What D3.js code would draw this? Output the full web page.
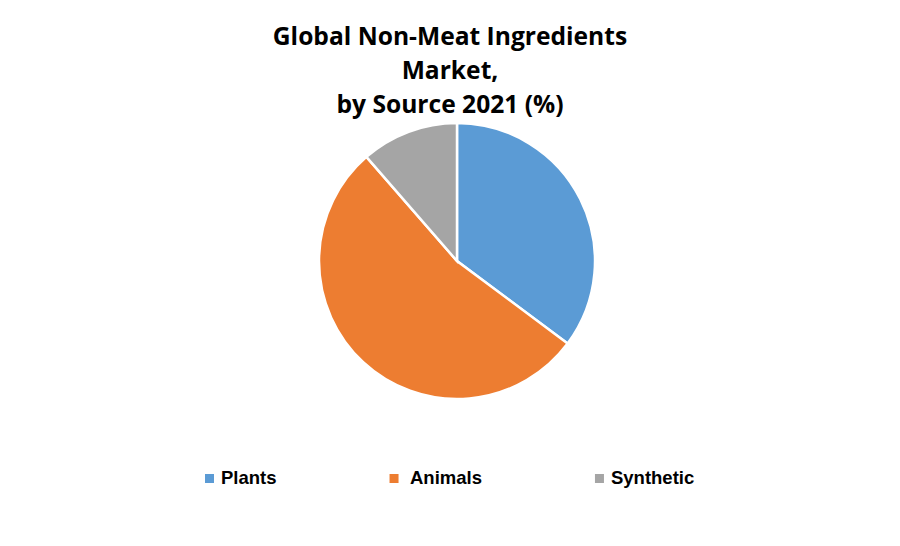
<!DOCTYPE html>
<html>
<head>
<meta charset="utf-8">
<script src="https://cdn.jsdelivr.net/npm/d3@7"></script>
<style>
  body { margin: 0; background: #fff; }
</style>
</head>
<body>
<svg id="chart"></svg>
<script>
const categories = ["Plants", " Animals", "Synthetic"];
const shares = [35.2, 53.4, 11.4];
const colors = ["#5B9BD5", "#ED7D31", "#A5A5A5"];
const titleLines = ["Global Non-Meat Ingredients", "Market,", "by Source 2021 (%)"];

const width = 900, height = 546;
const cx = 457, cy = 261, radius = 138;

const svg = d3.select("#chart").attr("width", width).attr("height", height);

// title
svg.append("g")
  .selectAll("text")
  .data(titleLines)
  .enter()
  .append("text")
  .attr("x", 450)
  .attr("y", (d, i) => 45 + i * 34)
  .attr("text-anchor", "middle")
  .attr("font-family", "'Open Sans', sans-serif")
  .attr("font-weight", "bold")
  .attr("font-size", "24.6px")
  .attr("fill", "#000")
  .text(d => d);

// pie
const pie = d3.pie().sort(null).value(d => d.value);
const arc = d3.arc().innerRadius(0).outerRadius(radius);
const data = categories.map((c, i) => ({ name: c, value: shares[i], color: colors[i] }));

svg.append("g")
  .attr("transform", "translate(" + cx + "," + cy + ")")
  .selectAll("path")
  .data(pie(data))
  .enter()
  .append("path")
  .attr("d", arc)
  .attr("fill", d => d.data.color)
  .attr("stroke", "#fff")
  .attr("stroke-width", 2.5);

// legend: entries laid out left to right, spaced by their text widths
const sq = 9, textGap = 7, itemGap = 113;
const legend = svg.append("g")
  .selectAll("g")
  .data(data)
  .enter()
  .append("g");

legend.append("rect")
  .attr("y", 474)
  .attr("width", sq)
  .attr("height", sq)
  .attr("fill", d => d.color);

legend.append("text")
  .attr("x", sq + textGap)
  .attr("y", 484)
  .attr("font-family", "'Liberation Sans', Arial, sans-serif")
  .attr("font-weight", "bold")
  .attr("font-size", "18.5px")
  .attr("fill", "#000")
  .style("white-space", "pre")
  .text(d => d.name);

let xPos = 205;
legend.each(function () {
  const g = d3.select(this);
  g.attr("transform", "translate(" + xPos + ",0)");
  xPos += sq + textGap + g.select("text").node().getComputedTextLength() + itemGap;
});
</script>
</body>
</html>
